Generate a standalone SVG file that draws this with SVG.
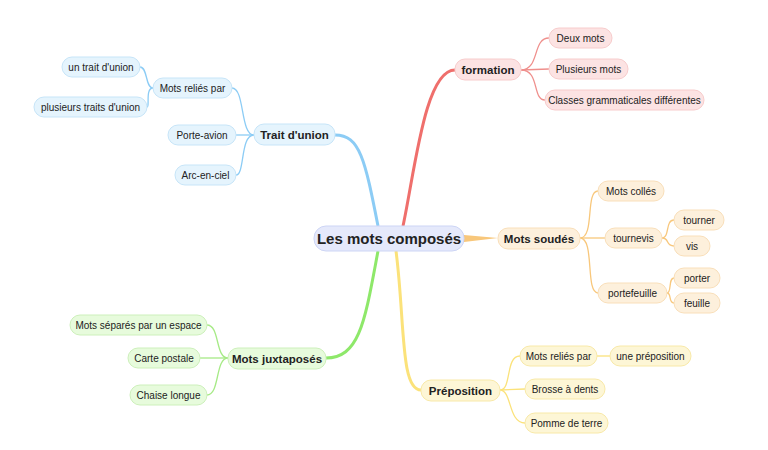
<svg xmlns="http://www.w3.org/2000/svg" width="768" height="450" viewBox="0 0 768 450">
<style>
text{font-family:"Liberation Sans",Arial,sans-serif;font-size:10px;fill:#222;text-anchor:middle;dominant-baseline:central}
.b{font-weight:bold;font-size:11.5px}
.c{fill:none;stroke-width:1.3}
.r rect{fill:#fce3e3;stroke:#f7cccc}
.o rect{fill:#fdf0dc;stroke:#f9dfba}
.y rect{fill:#fdf6d6;stroke:#f8e9a8}
.g rect{fill:#e7fbdc;stroke:#cdf0bb}
.u rect{fill:#e5f4fd;stroke:#c7e5f8}
</style>
<rect width="768" height="450" fill="#fff"/>
<g id="connectors">
<path d="M403,226 C415,170 425,70 455,70" stroke="#ef6f6c" stroke-width="3" fill="none"/>
<path d="M464,235 L498,238 L464,242 Z" fill="#f8c77b"/>
<path d="M396,251 C405,320 400,390 421,390" stroke="#fbe27a" stroke-width="3" fill="none"/>
<path d="M378,251 C365,320 360,358 326,358" stroke="#8ee86a" stroke-width="3" fill="none"/>
<path d="M378,226 C365,160 360,135 335,135" stroke="#8cccf5" stroke-width="3" fill="none"/>
<g class="c" stroke="#ef8f8c">
<path d="M521,70 C540,70 532,38 549,38"/><path d="M521,70 L549,69"/><path d="M521,70 C540,70 532,100 545,100"/>
</g>
<g class="c" stroke="#f8c77b">
<path d="M580,238 C595,238 585,191 598,191"/><path d="M580,238 L605,238"/><path d="M580,238 C595,238 585,293 598,293"/>
<path d="M662,238 C670,238 665,220 674,220"/><path d="M662,238 C670,238 665,246 674,246"/>
<path d="M667,293 C672,293 668,278 674,278"/><path d="M667,293 C672,293 668,303 674,303"/>
</g>
<g class="c" stroke="#fbe27a">
<path d="M500,390 C512,390 505,356 520,356"/><path d="M500,390 L525,389"/><path d="M500,390 C512,390 508,423 525,423"/><path d="M597,356 L610,356"/>
</g>
<g class="c" stroke="#a6ea86">
<path d="M228,358 C215,358 220,325 207,325"/><path d="M228,358 L200,358"/><path d="M228,358 C215,358 220,395 207,395"/>
</g>
<g class="c" stroke="#8cccf5">
<path d="M254,135 C240,135 245,88 232,88"/><path d="M254,135 L236,135"/><path d="M254,135 C240,135 245,175 236,175"/>
<path d="M153,88 C145,88 148,67 140,67"/><path d="M153,88 C145,88 150,107 147,107"/>
</g>
</g>
<g id="center"><rect x="314" y="226" width="150" height="25" rx="12" fill="#e5e9fb" stroke="#cdd5f5"/><text x="389" y="238.5" style="font-size:15px;font-weight:bold">Les mots composés</text></g>
<g id="formation" class="r"><rect x="455" y="59" width="66" height="21" rx="10"/><text class="b" x="488" y="69.5">formation</text></g>
<g id="f1" class="r"><rect x="549" y="28" width="63" height="20" rx="10"/><text x="580.5" y="38">Deux mots</text></g>
<g id="f2" class="r"><rect x="549" y="59" width="79" height="20" rx="10"/><text x="588.5" y="69">Plusieurs mots</text></g>
<g id="f3" class="r"><rect x="545" y="90" width="159" height="20" rx="10"/><text x="624.5" y="100">Classes grammaticales différentes</text></g>
<g id="soudes" class="o"><rect x="498" y="228" width="82" height="21" rx="10"/><text class="b" x="539" y="238.5">Mots soudés</text></g>
<g id="s1" class="o"><rect x="598" y="181" width="66" height="20" rx="10"/><text x="631" y="191">Mots collés</text></g>
<g id="s2" class="o"><rect x="605" y="228" width="57" height="20" rx="10"/><text x="633.5" y="238">tournevis</text></g>
<g id="s3" class="o"><rect x="598" y="283" width="69" height="20" rx="10"/><text x="632.5" y="293">portefeuille</text></g>
<g id="s4" class="o"><rect x="674" y="210" width="50" height="20" rx="10"/><text x="699" y="220">tourner</text></g>
<g id="s5" class="o"><rect x="674" y="236" width="36" height="20" rx="10"/><text x="692" y="246">vis</text></g>
<g id="s6" class="o"><rect x="674" y="268" width="46" height="20" rx="10"/><text x="697" y="278">porter</text></g>
<g id="s7" class="o"><rect x="674" y="293" width="46" height="20" rx="10"/><text x="697" y="303">feuille</text></g>
<g id="prep" class="y"><rect x="421" y="380" width="79" height="21" rx="10"/><text class="b" x="460.5" y="390.5">Préposition</text></g>
<g id="p1" class="y"><rect x="520" y="346" width="77" height="20" rx="10"/><text x="558.5" y="356">Mots reliés par</text></g>
<g id="p2" class="y"><rect x="610" y="346" width="81" height="20" rx="10"/><text x="650.5" y="356">une préposition</text></g>
<g id="p3" class="y"><rect x="525" y="379" width="80" height="20" rx="10"/><text x="565" y="389">Brosse à dents</text></g>
<g id="p4" class="y"><rect x="525" y="413" width="83" height="20" rx="10"/><text x="566.5" y="423">Pomme de terre</text></g>
<g id="juxt" class="g"><rect x="228" y="348" width="98" height="21" rx="10"/><text class="b" x="277" y="358.5">Mots juxtaposés</text></g>
<g id="j1" class="g"><rect x="70" y="315" width="137" height="20" rx="10"/><text x="138.5" y="325">Mots séparés par un espace</text></g>
<g id="j2" class="g"><rect x="128" y="348" width="72" height="20" rx="10"/><text x="164" y="358">Carte postale</text></g>
<g id="j3" class="g"><rect x="130" y="385" width="77" height="20" rx="10"/><text x="168.5" y="395">Chaise longue</text></g>
<g id="trait" class="u"><rect x="254" y="124" width="81" height="21" rx="10"/><text class="b" x="294.5" y="134.5">Trait d'union</text></g>
<g id="t1" class="u"><rect x="153" y="78" width="79" height="20" rx="10"/><text x="192.5" y="88">Mots reliés par</text></g>
<g id="t2" class="u"><rect x="168" y="125" width="68" height="20" rx="10"/><text x="202" y="135">Porte-avion</text></g>
<g id="t3" class="u"><rect x="175" y="165" width="61" height="20" rx="10"/><text x="205.5" y="175">Arc-en-ciel</text></g>
<g id="t4" class="u"><rect x="62" y="57" width="78" height="20" rx="10"/><text x="101" y="67">un trait d'union</text></g>
<g id="t5" class="u"><rect x="34" y="97" width="113" height="20" rx="10"/><text x="90.5" y="107">plusieurs traits d'union</text></g>
</svg>
